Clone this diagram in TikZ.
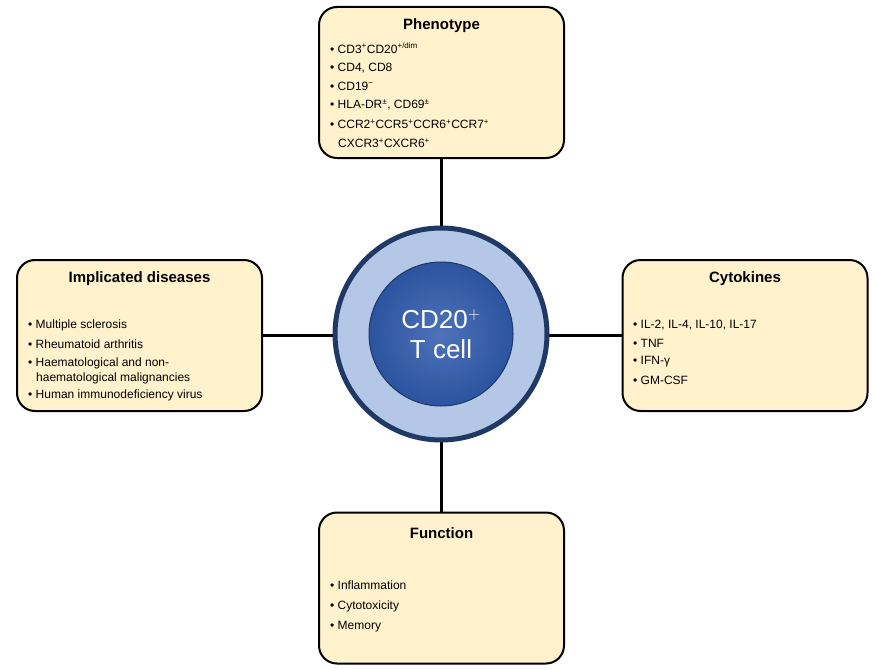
\documentclass[tikz,border=0pt]{standalone}
\usepackage{fontspec}
\setmainfont{Liberation Sans}
\begin{document}
\begin{tikzpicture}[x=1pt,y=-1pt,
 box/.style={draw=black,line width=2pt,fill=boxfill,rounded corners=18pt,minimum width=245pt,minimum height=151pt,inner sep=0pt},
 ttl/.style={font=\fontsize{15}{17}\selectfont\bfseries},
 itm/.style={anchor=west,inner sep=0pt,font=\fontsize{12}{15}\selectfont,align=left},
 link/.style={line width=3pt,black}]
\definecolor{boxfill}{HTML}{FFF2CC}
\definecolor{ring}{HTML}{B4C7E7}
\definecolor{navy}{HTML}{1F3864}
\definecolor{core}{HTML}{2F5AAE}
\useasboundingbox (0,0) rectangle (875,669);
\node[box] (phen) at (441.5,82.5) {};
\node[box] (dis) at (139.5,335.5) {};
\node[box] (cyt) at (745,335.5) {};
\node[box] (fun) at (441.5,588) {};
\node[circle,minimum size=212pt,inner sep=0pt] (cell) at (441,334) {};
\draw[link] (phen.south) -- (fun.north);
\draw[link] (dis.east) -- (cyt.west);
\node[circle,draw=navy,line width=5pt,fill=ring,minimum size=212pt,inner sep=0pt] at (441,334) {};
\node[circle,draw=navy,line width=1pt,inner color=core!85!white,outer color=core!80!navy,minimum size=144pt,inner sep=0pt,text=white,align=center,font=\fontsize{26}{30}\selectfont] (core) at (441,334) {CD20$^{+}$\\T cell};
% Phenotype
\node[ttl] (pt) at (441.5,26) {Phenotype};
\node[itm] (p1) at (330,48) {• CD3\textsuperscript{+}CD20\textsuperscript{+/dim}};
\node[itm] (p2) at (330,68) {• CD4, CD8};
\node[itm] (p3) at (330,86) {• CD19\textsuperscript{−}};
\node[itm] (p4) at (330,105) {• HLA-DR\textsuperscript{±}, CD69\textsuperscript{±}};
\node[itm] (p5) at (330,124) {• CCR2\textsuperscript{+}CCR5\textsuperscript{+}CCR6\textsuperscript{+}CCR7\textsuperscript{+}};
\node[itm] (p6) at (338,143) {CXCR3\textsuperscript{+}CXCR6\textsuperscript{+}};
% Diseases
\node[ttl] (dt) at (139.5,279) {Implicated diseases};
\node[itm] (d1) at (28,325) {• Multiple sclerosis};
\node[itm] (d2) at (28,344) {• Rheumatoid arthritis};
\node[itm] (d3) at (28,363) {• Haematological and non-};
\node[itm] (d4) at (36,378) {haematological malignancies};
\node[itm] (d5) at (28,395) {• Human immunodeficiency virus};
% Cytokines
\node[ttl] (ct) at (745,279) {Cytokines};
\node[itm] (c1) at (633,325) {• IL-2, IL-4, IL-10, IL-17};
\node[itm] (c2) at (633,343) {• TNF};
\node[itm] (c3) at (633,362) {• IFN-γ};
\node[itm] (c4) at (633,380) {• GM-CSF};
% Function
\node[ttl] (ft) at (441.5,533) {Function};
\node[itm] (f1) at (330,585) {• Inflammation};
\node[itm] (f2) at (330,606) {• Cytotoxicity};
\node[itm] (f3) at (330,627) {• Memory};
\end{tikzpicture}
\end{document}
